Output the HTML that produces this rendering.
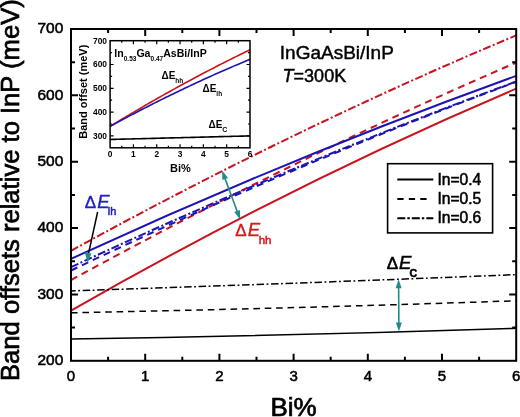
<!DOCTYPE html><html><head><meta charset="utf-8"><style>html,body{margin:0;padding:0;background:#fff;width:520px;height:417px;overflow:hidden}svg{display:block}</style></head><body>
<svg width="520" height="417" viewBox="0 0 520 417">
<rect width="520" height="417" fill="#fff"/>
<path d="M71.00,250.80 Q293.60,128.50 516.20,35.40" fill="none" stroke="#c8141e" stroke-width="2" stroke-dasharray="8 2.4 2 2.4"/>
<path d="M71.00,280.10 Q293.60,158.45 516.20,62.60" fill="none" stroke="#c8141e" stroke-width="2" stroke-dasharray="7 5"/>
<path d="M71.00,310.60 Q293.60,183.15 516.20,88.70" fill="none" stroke="#c8141e" stroke-width="2" />
<path d="M71.00,258.90 Q293.60,156.20 516.20,75.90" fill="none" stroke="#1c14b4" stroke-width="2" />
<path d="M71.00,270.50 Q293.60,164.60 516.20,81.90" fill="none" stroke="#1c14b4" stroke-width="2" stroke-dasharray="7 5"/>
<path d="M71.00,267.20 Q293.60,163.65 516.20,81.50" fill="none" stroke="#1c14b4" stroke-width="2" stroke-dasharray="8 2.4 2 2.4"/>
<path d="M71.00,290.90 Q293.60,283.65 516.20,274.60" fill="none" stroke="#000" stroke-width="1.5" stroke-dasharray="7.5 2.5 1.8 2.7" stroke-dashoffset="2.8"/>
<path d="M71.00,312.80 Q293.60,308.40 516.20,300.80" fill="none" stroke="#000" stroke-width="1.5" stroke-dasharray="6.6 4.8"/>
<path d="M71.00,338.90 Q293.60,335.65 516.20,328.20" fill="none" stroke="#000" stroke-width="1.5" />
<rect x="71.0" y="29.0" width="445.20" height="331.80" fill="none" stroke="#000" stroke-width="2"/>
<path d="M108.10,360.8v-4M108.10,29.0v4M145.20,360.8v-7M145.20,29.0v7M182.30,360.8v-4M182.30,29.0v4M219.40,360.8v-7M219.40,29.0v7M256.50,360.8v-4M256.50,29.0v4M293.60,360.8v-7M293.60,29.0v7M330.70,360.8v-4M330.70,29.0v4M367.80,360.8v-7M367.80,29.0v7M404.90,360.8v-4M404.90,29.0v4M442.00,360.8v-7M442.00,29.0v7M479.10,360.8v-4M479.10,29.0v4M71.0,327.62h4M516.2,327.62h-4M71.0,294.44h7M516.2,294.44h-7M71.0,261.26h4M516.2,261.26h-4M71.0,228.08h7M516.2,228.08h-7M71.0,194.90h4M516.2,194.90h-4M71.0,161.72h7M516.2,161.72h-7M71.0,128.54h4M516.2,128.54h-4M71.0,95.36h7M516.2,95.36h-7M71.0,62.18h4M516.2,62.18h-4" stroke="#000" stroke-width="2" fill="none"/>
<text x="63.3" y="365.00" text-anchor="end" font-size="15.5" font-family="Liberation Sans, Arial, sans-serif" stroke="#000" stroke-width="0.55">200</text>
<text x="63.3" y="298.64" text-anchor="end" font-size="15.5" font-family="Liberation Sans, Arial, sans-serif" stroke="#000" stroke-width="0.55">300</text>
<text x="63.3" y="232.28" text-anchor="end" font-size="15.5" font-family="Liberation Sans, Arial, sans-serif" stroke="#000" stroke-width="0.55">400</text>
<text x="63.3" y="165.92" text-anchor="end" font-size="15.5" font-family="Liberation Sans, Arial, sans-serif" stroke="#000" stroke-width="0.55">500</text>
<text x="63.3" y="99.56" text-anchor="end" font-size="15.5" font-family="Liberation Sans, Arial, sans-serif" stroke="#000" stroke-width="0.55">600</text>
<text x="63.3" y="33.20" text-anchor="end" font-size="15.5" font-family="Liberation Sans, Arial, sans-serif" stroke="#000" stroke-width="0.55">700</text>
<text x="71.00" y="380.6" text-anchor="middle" font-size="15" font-family="Liberation Sans, Arial, sans-serif" stroke="#000" stroke-width="0.55">0</text>
<text x="145.20" y="380.6" text-anchor="middle" font-size="15" font-family="Liberation Sans, Arial, sans-serif" stroke="#000" stroke-width="0.55">1</text>
<text x="219.40" y="380.6" text-anchor="middle" font-size="15" font-family="Liberation Sans, Arial, sans-serif" stroke="#000" stroke-width="0.55">2</text>
<text x="293.60" y="380.6" text-anchor="middle" font-size="15" font-family="Liberation Sans, Arial, sans-serif" stroke="#000" stroke-width="0.55">3</text>
<text x="367.80" y="380.6" text-anchor="middle" font-size="15" font-family="Liberation Sans, Arial, sans-serif" stroke="#000" stroke-width="0.55">4</text>
<text x="442.00" y="380.6" text-anchor="middle" font-size="15" font-family="Liberation Sans, Arial, sans-serif" stroke="#000" stroke-width="0.55">5</text>
<text x="516.20" y="380.6" text-anchor="middle" font-size="15" font-family="Liberation Sans, Arial, sans-serif" stroke="#000" stroke-width="0.55">6</text>
<text x="293.6" y="416" text-anchor="middle" font-size="26" font-family="Liberation Sans, Arial, sans-serif" stroke="#000" stroke-width="0.7">Bi%</text>
<text transform="translate(18.6,381) rotate(-90)" x="0" y="0" font-size="25.6" font-family="Liberation Sans, Arial, sans-serif" stroke="#000" stroke-width="0.7">Band offsets relative to InP (meV)</text>
<text x="279.8" y="59.3" font-size="19" font-family="Liberation Sans, Arial, sans-serif" stroke="#000" stroke-width="0.45">InGaAsBi/InP</text>
<text x="282.6" y="82.3" font-size="18" font-family="Liberation Sans, Arial, sans-serif" stroke="#000" stroke-width="0.45"><tspan font-style="italic">T</tspan>=300K</text>
<text x="84.8" y="207.6" font-size="18.5" fill="#2020c8" stroke="#2020c8" stroke-width="0.35" font-family="Liberation Sans, Arial, sans-serif"><tspan font-size="17">Δ</tspan><tspan font-style="italic" dx="1">E</tspan><tspan font-size="11" dx="-1.8" dy="7.2" stroke-width="0.5">lh</tspan></text>
<text x="235.3" y="236.3" font-size="18.5" fill="#d41a1a" stroke="#d41a1a" stroke-width="0.35" font-family="Liberation Sans, Arial, sans-serif"><tspan font-size="17">Δ</tspan><tspan font-style="italic" dx="1">E</tspan><tspan font-size="11.5" dx="-1.3" dy="7.3" stroke-width="0.5">hh</tspan></text>
<text x="386.7" y="269.2" font-size="18.5" font-family="Liberation Sans, Arial, sans-serif" stroke="#000" stroke-width="0.55"><tspan font-size="17">Δ</tspan><tspan font-style="italic" dx="1">E</tspan><tspan font-size="10.5" dx="-1.8" dy="8" font-weight="bold">C</tspan></text>
<rect x="387.6" y="163.7" width="105" height="69.2" fill="#fff" stroke="#000" stroke-width="1.6"/>
<path d="M397.3,179.4H433.3" stroke="#000" stroke-width="2" />
<path d="M397.3,199.1H427.2" stroke="#000" stroke-width="2" stroke-dasharray="6.3 5.2"/>
<path d="M397.3,218.3H433.3" stroke="#000" stroke-width="2" stroke-dasharray="8 2 2.5 2"/>
<text x="437.5" y="185.1" font-size="15.6" font-family="Liberation Sans, Arial, sans-serif" stroke="#000" stroke-width="0.55">In=0.4</text>
<text x="437.5" y="204.1" font-size="15.6" font-family="Liberation Sans, Arial, sans-serif" stroke="#000" stroke-width="0.55">In=0.5</text>
<text x="437.5" y="223.3" font-size="15.6" font-family="Liberation Sans, Arial, sans-serif" stroke="#000" stroke-width="0.55">In=0.6</text>
<path d="M224.60,177.35L237.70,212.75" stroke="#1f8c8c" stroke-width="1.6"/><path d="M240.20,219.50L234.26,212.10L239.89,210.02Z" fill="#1f8c8c"/><path d="M222.10,170.60L222.41,180.08L228.04,178.00Z" fill="#1f8c8c"/>
<path d="M398.64,286.40L398.86,324.20" stroke="#1f8c8c" stroke-width="1.6"/><path d="M398.90,331.40L395.85,322.42L401.85,322.38Z" fill="#1f8c8c"/><path d="M398.60,279.20L395.65,288.22L401.65,288.18Z" fill="#1f8c8c"/>
<path d="M97.6,212L88.6,253.2" stroke="#000" stroke-width="1.5"/>
<path d="M87.6,263.0L84.8,252.2L91.4,253.6Z" fill="#1f8c8c"/>
<rect x="110.1" y="40.7" width="139.90" height="107.10" fill="#fff" stroke="none"/>
<path d="M110.10,126.38 L112.43,124.95 L114.76,123.53 L117.09,122.11 L119.43,120.70 L121.76,119.29 L124.09,117.89 L126.42,116.49 L128.75,115.10 L131.09,113.71 L133.42,112.33 L135.75,110.96 L138.08,109.59 L140.41,108.22 L142.74,106.86 L145.07,105.50 L147.41,104.15 L149.74,102.81 L152.07,101.47 L154.40,100.13 L156.73,98.80 L159.06,97.48 L161.40,96.16 L163.73,94.84 L166.06,93.53 L168.39,92.23 L170.72,90.93 L173.06,89.63 L175.39,88.34 L177.72,87.06 L180.05,85.78 L182.38,84.51 L184.71,83.24 L187.05,81.98 L189.38,80.72 L191.71,79.47 L194.04,78.22 L196.37,76.97 L198.70,75.74 L201.03,74.50 L203.37,73.28 L205.70,72.06 L208.03,70.84 L210.36,69.63 L212.69,68.42 L215.03,67.22 L217.36,66.02 L219.69,64.83 L222.02,63.64 L224.35,62.46 L226.68,61.29 L229.01,60.12 L231.35,58.95 L233.68,57.79 L236.01,56.63 L238.34,55.48 L240.67,54.34 L243.00,53.20 L245.34,52.06 L247.67,50.94 L250.00,49.81" fill="none" stroke="#c8141e" stroke-width="1.6"/>
<path d="M110.10,126.38 L112.43,125.11 L114.76,123.85 L117.09,122.59 L119.43,121.34 L121.76,120.09 L124.09,118.85 L126.42,117.61 L128.75,116.37 L131.09,115.15 L133.42,113.92 L135.75,112.71 L138.08,111.49 L140.41,110.29 L142.74,109.08 L145.07,107.89 L147.41,106.69 L149.74,105.51 L152.07,104.32 L154.40,103.15 L156.73,101.98 L159.06,100.81 L161.40,99.65 L163.73,98.49 L166.06,97.34 L168.39,96.19 L170.72,95.05 L173.06,93.91 L175.39,92.78 L177.72,91.66 L180.05,90.53 L182.38,89.42 L184.71,88.31 L187.05,87.20 L189.38,86.10 L191.71,85.00 L194.04,83.91 L196.37,82.83 L198.70,81.75 L201.03,80.67 L203.37,79.60 L205.70,78.53 L208.03,77.47 L210.36,76.42 L212.69,75.37 L215.03,74.32 L217.36,73.28 L219.69,72.25 L222.02,71.22 L224.35,70.19 L226.68,69.17 L229.01,68.16 L231.35,67.15 L233.68,66.14 L236.01,65.14 L238.34,64.15 L240.67,63.16 L243.00,62.17 L245.34,61.19 L247.67,60.22 L250.00,59.25" fill="none" stroke="#1c14b4" stroke-width="1.6"/>
<path d="M110.10,139.47 L112.43,139.41 L114.76,139.35 L117.09,139.29 L119.43,139.23 L121.76,139.17 L124.09,139.11 L126.42,139.05 L128.75,138.99 L131.09,138.93 L133.42,138.88 L135.75,138.82 L138.08,138.76 L140.41,138.70 L142.74,138.64 L145.07,138.58 L147.41,138.52 L149.74,138.46 L152.07,138.40 L154.40,138.34 L156.73,138.28 L159.06,138.22 L161.40,138.16 L163.73,138.10 L166.06,138.04 L168.39,137.98 L170.72,137.92 L173.06,137.86 L175.39,137.80 L177.72,137.74 L180.05,137.69 L182.38,137.63 L184.71,137.57 L187.05,137.51 L189.38,137.45 L191.71,137.39 L194.04,137.33 L196.37,137.27 L198.70,137.21 L201.03,137.15 L203.37,137.09 L205.70,137.03 L208.03,136.97 L210.36,136.91 L212.69,136.85 L215.03,136.79 L217.36,136.73 L219.69,136.67 L222.02,136.61 L224.35,136.55 L226.68,136.50 L229.01,136.44 L231.35,136.38 L233.68,136.32 L236.01,136.26 L238.34,136.20 L240.67,136.14 L243.00,136.08 L245.34,136.02 L247.67,135.96 L250.00,135.90" fill="none" stroke="#000" stroke-width="1.6"/>
<rect x="110.1" y="40.7" width="139.90" height="107.10" fill="none" stroke="#000" stroke-width="1.5"/>
<path d="M121.76,147.8v-2M121.76,40.7v2M133.42,147.8v-3.5M133.42,40.7v3.5M145.07,147.8v-2M145.07,40.7v2M156.73,147.8v-3.5M156.73,40.7v3.5M168.39,147.8v-2M168.39,40.7v2M180.05,147.8v-3.5M180.05,40.7v3.5M191.71,147.8v-2M191.71,40.7v2M203.37,147.8v-3.5M203.37,40.7v3.5M215.03,147.8v-2M215.03,40.7v2M226.68,147.8v-3.5M226.68,40.7v3.5M238.34,147.8v-2M238.34,40.7v2M110.1,135.90h3.5M250.0,135.90h-3.5M110.1,124.00h2M250.0,124.00h-2M110.1,112.10h3.5M250.0,112.10h-3.5M110.1,100.20h2M250.0,100.20h-2M110.1,88.30h3.5M250.0,88.30h-3.5M110.1,76.40h2M250.0,76.40h-2M110.1,64.50h3.5M250.0,64.50h-3.5M110.1,52.60h2M250.0,52.60h-2" stroke="#000" stroke-width="1.2" fill="none"/>
<text x="107" y="138.70" text-anchor="end" font-size="8.4" font-family="Liberation Sans, Arial, sans-serif" font-weight="bold">300</text>
<text x="107" y="114.90" text-anchor="end" font-size="8.4" font-family="Liberation Sans, Arial, sans-serif" font-weight="bold">400</text>
<text x="107" y="91.10" text-anchor="end" font-size="8.4" font-family="Liberation Sans, Arial, sans-serif" font-weight="bold">500</text>
<text x="107" y="67.30" text-anchor="end" font-size="8.4" font-family="Liberation Sans, Arial, sans-serif" font-weight="bold">600</text>
<text x="107" y="43.50" text-anchor="end" font-size="8.4" font-family="Liberation Sans, Arial, sans-serif" font-weight="bold">700</text>
<text x="110.10" y="157.3" text-anchor="middle" font-size="8.4" font-family="Liberation Sans, Arial, sans-serif" font-weight="bold">0</text>
<text x="133.42" y="157.3" text-anchor="middle" font-size="8.4" font-family="Liberation Sans, Arial, sans-serif" font-weight="bold">1</text>
<text x="156.73" y="157.3" text-anchor="middle" font-size="8.4" font-family="Liberation Sans, Arial, sans-serif" font-weight="bold">2</text>
<text x="180.05" y="157.3" text-anchor="middle" font-size="8.4" font-family="Liberation Sans, Arial, sans-serif" font-weight="bold">3</text>
<text x="203.37" y="157.3" text-anchor="middle" font-size="8.4" font-family="Liberation Sans, Arial, sans-serif" font-weight="bold">4</text>
<text x="226.68" y="157.3" text-anchor="middle" font-size="8.4" font-family="Liberation Sans, Arial, sans-serif" font-weight="bold">5</text>
<text x="250.00" y="157.3" text-anchor="middle" font-size="8.4" font-family="Liberation Sans, Arial, sans-serif" font-weight="bold">6</text>
<text x="180.5" y="171.5" text-anchor="middle" font-size="11" font-family="Liberation Sans, Arial, sans-serif" font-weight="bold">Bi%</text>
<text transform="translate(87,138.8) rotate(-90)" font-size="11" font-family="Liberation Sans, Arial, sans-serif" font-weight="bold">Band offset (meV)</text>
<text x="114.3" y="57" font-size="10.6" font-family="Liberation Sans, Arial, sans-serif" font-weight="bold">In<tspan font-size="6.5" dy="4.2">0.53</tspan><tspan dy="-4.2">Ga</tspan><tspan font-size="6.5" dy="4.2">0.47</tspan><tspan dy="-4.2">AsBi/InP</tspan></text>
<text x="161.5" y="79.2" font-size="10" font-family="Liberation Sans, Arial, sans-serif" font-weight="bold">ΔE<tspan font-size="6.5" dy="3.5">hh</tspan></text>
<text x="202.5" y="92.3" font-size="10" font-family="Liberation Sans, Arial, sans-serif" font-weight="bold">ΔE<tspan font-size="6.5" dy="3.5">lh</tspan></text>
<text x="208.5" y="127.8" font-size="10" font-family="Liberation Sans, Arial, sans-serif" font-weight="bold">ΔE<tspan font-size="7" dy="4.5">C</tspan></text>
</svg></body></html>
